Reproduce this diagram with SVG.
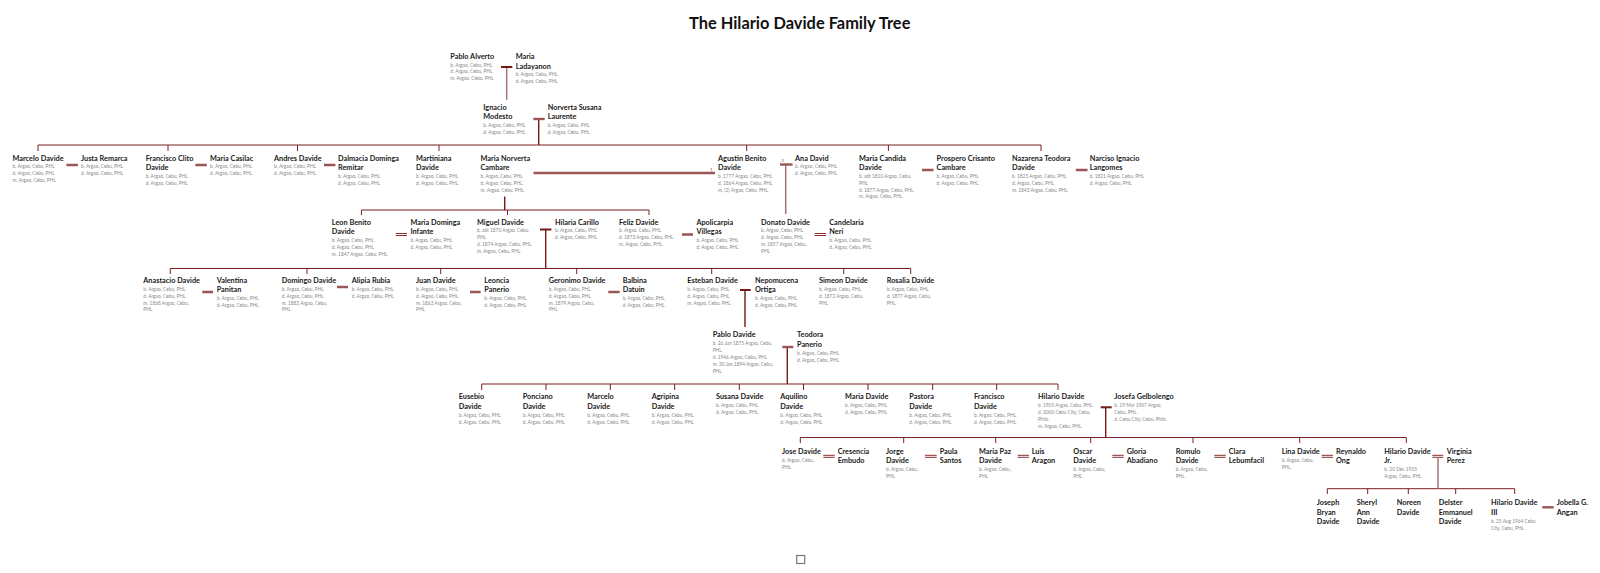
<svg xmlns="http://www.w3.org/2000/svg" width="1600" height="573" viewBox="0 0 1600 573">
<style>
text{font-family:Lato,"Liberation Sans",sans-serif}
.t{font-size:16.4px;font-weight:700;fill:#111}
.n{font-size:7.3px;font-weight:700;fill:#1a1a1a}
.d{font-size:4.8px;fill:#8a8a8a}
.s{font-size:4px;fill:#7a3030}
.l{fill:none;stroke:#7b1f1f;stroke-width:1}
.k{fill:none;stroke:#741818;stroke-width:1.4}
.r{fill:none;stroke:#a67474;stroke-width:1.5}
.b{fill:none;stroke:#9a5656;stroke-width:2.4}
.e{fill:none;stroke:#741818;stroke-width:2}
.w{fill:none;stroke:#8a2c2c;stroke-width:1}
</style>
<text class="t" x="689" y="29">The Hilario Davide Family Tree</text>
<g id="connectors">
<path class="l" d="M38 151V145H1041V151M168 145V151M297.5 145V151M439 145V151M746.7 145V151M888.4 145V151"/>
<path class="l" d="M361.4 215V210H649V215M507.5 210V215"/>
<path class="l" d="M170.3 274V268.5H910.7V274M307 268.5V274M440.7 268.5V274M576.7 268.5V274M711.7 268.5V274M843.7 268.5V274"/>
<path class="l" d="M481.7 390V384H1058V390M546 384V390M610.3 384V390M674.7 384V390M739.3 384V390M803.5 384V390M868 384V390M932.7 384V390M996.7 384V390"/>
<path class="l" d="M800.3 443V437.5H1406.3V443M903.7 437.5V443M995.7 437.5V443M1090.7 437.5V443M1193 437.5V443M1299.7 437.5V443"/>
<path class="l" d="M1327.3 494V488.7H1514.7V494M1367.7 488.7V494M1408.3 488.7V494M1455.7 488.7V494"/>
<path class="r" d="M506.7 67V99.7"/><path class="e" d="M501 67H512.3"/>
<path class="k" d="M538.7 119V145"/><path class="b" d="M533.3 119H544.7"/>
<path class="b" d="M66.4 165H77.9M195.4 165H206.8M324 165H335.4"/>
<path class="b" d="M533.5 173H715"/>
<path class="r" d="M785.7 164.5V214"/><path class="b" d="M780 164.5H792.6"/>
<path class="b" d="M922 170H933.5M1075.8 170H1087.5"/>
<path class="k" d="M504.7 196.5V210"/>
<path class="w" d="M395.7 233.5H407M395.7 235.5H407M814.6 233.5H826M814.6 235.5H826"/>
<path class="k" d="M545.7 229.5V268.5"/><path class="e" d="M540 229.5H551.4"/>
<path class="b" d="M682 234.5H693M202.3 292H213M337 287H348M470 292H480.7M608.3 292H619.7"/>
<path class="k" d="M745 290V327"/><path class="e" d="M740 290H750.7"/>
<path class="k" d="M787.3 347V384"/><path class="b" d="M782.3 347H793.3"/>
<path class="k" d="M1105.7 407.3V437.5"/><path class="e" d="M1100.7 407.3H1111.7"/>
<path class="w" d="M823.3 455.3H834.7M823.3 457.3H834.7M925 455.3H936.7M925 457.3H936.7M1017.7 455.3H1029M1017.7 457.3H1029M1112.3 455.3H1123.7M1112.3 457.3H1123.7M1214.3 455.3H1225.7M1214.3 457.3H1225.7M1321.7 455.3H1333M1321.7 457.3H1333M1432.3 455.3H1443.3M1432.3 457.3H1443.3"/>
<path class="r" d="M1438 457V488.7"/>
<path class="b" d="M1542.3 507.3H1553.7"/>
<text class="s" x="710" y="171">1</text>
<text class="s" x="781.5" y="162">2</text>
</g>
<g id="pablo-alverto"><text class="n" x="450.3" y="59">Pablo Alverto</text><text class="d" x="450.3" y="66.6">b. Argao, Cebu, PHL</text><text class="d" x="450.3" y="73.4">d. Argao, Cebu, PHL</text><text class="d" x="450.3" y="80.2">m. Argao, Cebu, PHL</text></g>
<g id="maria-ladayanon"><text class="n" x="515.7" y="59">Maria</text><text class="n" x="515.7" y="68.5">Ladayanon</text><text class="d" x="515.7" y="76.3">b. Argao, Cebu, PHL</text><text class="d" x="515.7" y="83">d. Argao, Cebu, PHL</text></g>
<g id="ignacio-modesto"><text class="n" x="483.3" y="109.7">Ignacio</text><text class="n" x="483.3" y="119.2">Modesto</text><text class="d" x="483.3" y="127">b. Argao, Cebu, PHL</text><text class="d" x="483.3" y="133.8">d. Argao, Cebu, PHL</text></g>
<g id="norverta-laurente"><text class="n" x="547.7" y="109.7">Norverta Susana</text><text class="n" x="547.7" y="119.2">Laurente</text><text class="d" x="547.7" y="127">b. Argao, Cebu, PHL</text><text class="d" x="547.7" y="133.8">d. Argao, Cebu, PHL</text></g>

<g id="marcelo-davide"><text class="n" x="12.5" y="160.5">Marcelo Davide</text><text class="d" x="12.5" y="168.3">b. Argao, Cebu, PHL</text><text class="d" x="12.5" y="175.2">d. Argao, Cebu, PHL</text><text class="d" x="12.5" y="182">m. Argao, Cebu, PHL</text></g>
<g id="justa-remarca"><text class="n" x="81" y="160.5">Justa Remarca</text><text class="d" x="81" y="168.3">b. Argao, Cebu, PHL</text><text class="d" x="81" y="175.2">d. Argao, Cebu, PHL</text></g>
<g id="francisco-clito"><text class="n" x="145.7" y="160.5">Francisco Clito</text><text class="n" x="145.7" y="170">Davide</text><text class="d" x="145.7" y="177.7">b. Argao, Cebu, PHL</text><text class="d" x="145.7" y="184.6">d. Argao, Cebu, PHL</text></g>
<g id="maria-casilac"><text class="n" x="210" y="160.5">Maria Casilac</text><text class="d" x="210" y="168.3">b. Argao, Cebu, PHL</text><text class="d" x="210" y="175.2">d. Argao, Cebu, PHL</text></g>
<g id="andres-davide"><text class="n" x="274" y="160.5">Andres Davide</text><text class="d" x="274" y="168.3">b. Argao, Cebu, PHL</text><text class="d" x="274" y="175.2">d. Argao, Cebu, PHL</text></g>
<g id="dalmacia-remitar"><text class="n" x="338" y="160.5">Dalmacia Dominga</text><text class="n" x="338" y="170">Remitar</text><text class="d" x="338" y="177.7">b. Argao, Cebu, PHL</text><text class="d" x="338" y="184.6">d. Argao, Cebu, PHL</text></g>
<g id="martiniana-davide"><text class="n" x="416" y="160.5">Martiniana</text><text class="n" x="416" y="170">Davide</text><text class="d" x="416" y="177.7">b. Argao, Cebu, PHL</text><text class="d" x="416" y="184.6">d. Argao, Cebu, PHL</text></g>
<g id="maria-norverta"><text class="n" x="480.5" y="160.5">Maria Norverta</text><text class="n" x="480.5" y="170">Cambare</text><text class="d" x="480.5" y="177.7">b. Argao, Cebu, PHL</text><text class="d" x="480.5" y="184.6">d. Argao, Cebu, PHL</text><text class="d" x="480.5" y="191.5">m. Argao, Cebu, PHL</text></g>
<g id="agustin-davide"><text class="n" x="718" y="160.5">Agustin Benito</text><text class="n" x="718" y="170">Davide</text><text class="d" x="718" y="177.7">b. 1777 Argao, Cebu, PHL</text><text class="d" x="718" y="184.6">d. 1864 Argao, Cebu, PHL</text><text class="d" x="718" y="191.5">m. (2) Argao, Cebu, PHL</text></g>
<g id="ana-david"><text class="n" x="795" y="160.5">Ana David</text><text class="d" x="795" y="168.3">b. Argao, Cebu, PHL</text><text class="d" x="795" y="175.2">d. Argao, Cebu, PHL</text></g>
<g id="maria-candida"><text class="n" x="859" y="160.5">Maria Candida</text><text class="n" x="859" y="170">Davide</text><text class="d" x="859" y="177.7">b. abt 1810 Argao, Cebu,</text><text class="d" x="859" y="184.6">PHL</text><text class="d" x="859" y="191.5">d. 1877 Argao, Cebu, PHL</text><text class="d" x="859" y="198.4">m. Argao, Cebu, PHL</text></g>
<g id="prospero-cambare"><text class="n" x="936.6" y="160.5">Prospero Crisanto</text><text class="n" x="936.6" y="170">Cambare</text><text class="d" x="936.6" y="177.7">b. Argao, Cebu, PHL</text><text class="d" x="936.6" y="184.6">d. Argao, Cebu, PHL</text></g>
<g id="nazarena-davide"><text class="n" x="1012" y="160.5">Nazarena Teodora</text><text class="n" x="1012" y="170">Davide</text><text class="d" x="1012" y="177.7">b. 1825 Argao, Cebu, PHL</text><text class="d" x="1012" y="184.6">d. Argao, Cebu, PHL</text><text class="d" x="1012" y="191.5">m. 1843 Argao, Cebu, PHL</text></g>
<g id="narciso-langomes"><text class="n" x="1089.7" y="160.5">Narciso Ignacio</text><text class="n" x="1089.7" y="170">Langomes</text><text class="d" x="1089.7" y="177.7">b. 1821 Argao, Cebu, PHL</text><text class="d" x="1089.7" y="184.6">d. Argao, Cebu, PHL</text></g>

<g id="leon-davide"><text class="n" x="331.8" y="224.8">Leon Benito</text><text class="n" x="331.8" y="234.3">Davide</text><text class="d" x="331.8" y="242">b. Argao, Cebu, PHL</text><text class="d" x="331.8" y="249">d. Argao, Cebu, PHL</text><text class="d" x="331.8" y="256">m. 1847 Argao, Cebu, PHL</text></g>
<g id="maria-infante"><text class="n" x="410.4" y="224.8">Maria Dominga</text><text class="n" x="410.4" y="234.3">Infante</text><text class="d" x="410.4" y="242">b. Argao, Cebu, PHL</text><text class="d" x="410.4" y="249">d. Argao, Cebu, PHL</text></g>
<g id="miguel-davide"><text class="n" x="477" y="224.8">Miguel Davide</text><text class="d" x="477" y="232.3">b. abt 1870 Argao, Cebu,</text><text class="d" x="477" y="239.2">PHL</text><text class="d" x="477" y="246.1">d. 1874 Argao, Cebu, PHL</text><text class="d" x="477" y="253">m. Argao, Cebu, PHL</text></g>
<g id="hilaria-carillo"><text class="n" x="555" y="224.8">Hilaria Carillo</text><text class="d" x="555" y="232.3">b. Argao, Cebu, PHL</text><text class="d" x="555" y="239.2">d. Argao, Cebu, PHL</text></g>
<g id="feliz-davide"><text class="n" x="619" y="224.8">Feliz Davide</text><text class="d" x="619" y="232.3">b. Argao, Cebu, PHL</text><text class="d" x="619" y="239.2">d. 1873 Argao, Cebu, PHL</text><text class="d" x="619" y="246.1">m. Argao, Cebu, PHL</text></g>
<g id="apolicarpia-villegas"><text class="n" x="696.4" y="224.8">Apolicarpia</text><text class="n" x="696.4" y="234.3">Villegas</text><text class="d" x="696.4" y="242">b. Argao, Cebu, PHL</text><text class="d" x="696.4" y="249">d. Argao, Cebu, PHL</text></g>
<g id="donato-davide"><text class="n" x="761" y="224.8">Donato Davide</text><text class="d" x="761" y="232.3">b. Argao, Cebu, PHL</text><text class="d" x="761" y="239.2">d. Argao, Cebu, PHL</text><text class="d" x="761" y="246.1">m. 1857 Argao, Cebu,</text><text class="d" x="761" y="253">PHL</text></g>
<g id="candelaria-neri"><text class="n" x="829.3" y="224.8">Candelaria</text><text class="n" x="829.3" y="234.3">Neri</text><text class="d" x="829.3" y="242">b. Argao, Cebu, PHL</text><text class="d" x="829.3" y="249">d. Argao, Cebu, PHL</text></g>

<g id="anastacio-davide"><text class="n" x="143.3" y="282.5">Anastacio Davide</text><text class="d" x="143.3" y="290.7">b. Argao, Cebu, PHL</text><text class="d" x="143.3" y="297.6">d. Argao, Cebu, PHL</text><text class="d" x="143.3" y="304.5">m. 1868 Argao, Cebu,</text><text class="d" x="143.3" y="311.4">PHL</text></g>
<g id="valentina-panitan"><text class="n" x="216.7" y="282.5">Valentina</text><text class="n" x="216.7" y="292">Panitan</text><text class="d" x="216.7" y="300">b. Argao, Cebu, PHL</text><text class="d" x="216.7" y="307">d. Argao, Cebu, PHL</text></g>
<g id="domingo-davide"><text class="n" x="281.7" y="282.5">Domingo Davide</text><text class="d" x="281.7" y="290.7">b. Argao, Cebu, PHL</text><text class="d" x="281.7" y="297.6">d. Argao, Cebu, PHL</text><text class="d" x="281.7" y="304.5">m. 1883 Argao, Cebu,</text><text class="d" x="281.7" y="311.4">PHL</text></g>
<g id="alipia-rubia"><text class="n" x="351.7" y="282.5">Alipia Rubia</text><text class="d" x="351.7" y="290.7">b. Argao, Cebu, PHL</text><text class="d" x="351.7" y="297.6">d. Argao, Cebu, PHL</text></g>
<g id="juan-davide"><text class="n" x="416" y="282.5">Juan Davide</text><text class="d" x="416" y="290.7">b. Argao, Cebu, PHL</text><text class="d" x="416" y="297.6">d. Argao, Cebu, PHL</text><text class="d" x="416" y="304.5">m. 1863 Argao, Cebu,</text><text class="d" x="416" y="311.4">PHL</text></g>
<g id="leoncia-panerio"><text class="n" x="484.3" y="282.5">Leoncia</text><text class="n" x="484.3" y="292">Panerio</text><text class="d" x="484.3" y="300">b. Argao, Cebu, PHL</text><text class="d" x="484.3" y="307">d. Argao, Cebu, PHL</text></g>
<g id="geronimo-davide"><text class="n" x="548.7" y="282.5">Geronimo Davide</text><text class="d" x="548.7" y="290.7">b. Argao, Cebu, PHL</text><text class="d" x="548.7" y="297.6">d. Argao, Cebu, PHL</text><text class="d" x="548.7" y="304.5">m. 1879 Argao, Cebu,</text><text class="d" x="548.7" y="311.4">PHL</text></g>
<g id="balbina-datuin"><text class="n" x="622.7" y="282.5">Balbina</text><text class="n" x="622.7" y="292">Datuin</text><text class="d" x="622.7" y="300">b. Argao, Cebu, PHL</text><text class="d" x="622.7" y="307">d. Argao, Cebu, PHL</text></g>
<g id="esteban-davide"><text class="n" x="687.3" y="282.5">Esteban Davide</text><text class="d" x="687.3" y="290.7">b. Argao, Cebu, PHL</text><text class="d" x="687.3" y="297.6">d. Argao, Cebu, PHL</text><text class="d" x="687.3" y="304.5">m. Argao, Cebu, PHL</text></g>
<g id="nepomucena-ortiga"><text class="n" x="755" y="282.5">Nepomucena</text><text class="n" x="755" y="292">Ortiga</text><text class="d" x="755" y="300">b. Argao, Cebu, PHL</text><text class="d" x="755" y="307">d. Argao, Cebu, PHL</text></g>
<g id="simeon-davide"><text class="n" x="819" y="282.5">Simeon Davide</text><text class="d" x="819" y="290.7">b. Argao, Cebu, PHL</text><text class="d" x="819" y="297.6">d. 1872 Argao, Cebu,</text><text class="d" x="819" y="304.5">PHL</text></g>
<g id="rosalia-davide"><text class="n" x="886.7" y="282.5">Rosalia Davide</text><text class="d" x="886.7" y="290.7">b. Argao, Cebu, PHL</text><text class="d" x="886.7" y="297.6">d. 1877 Argao, Cebu,</text><text class="d" x="886.7" y="304.5">PHL</text></g>

<g id="pablo-davide"><text class="n" x="712.7" y="337">Pablo Davide</text><text class="d" x="712.7" y="345">b. 26 Jun 1875 Argao, Cebu,</text><text class="d" x="712.7" y="352">PHL</text><text class="d" x="712.7" y="359">d. 1946 Argao, Cebu, PHL</text><text class="d" x="712.7" y="366">m. 30 Jan 1894 Argao, Cebu,</text><text class="d" x="712.7" y="373">PHL</text></g>
<g id="teodora-panerio"><text class="n" x="797" y="337">Teodora</text><text class="n" x="797" y="346.5">Panerio</text><text class="d" x="797" y="354.5">b. Argao, Cebu, PHL</text><text class="d" x="797" y="361.5">d. Argao, Cebu, PHL</text></g>

<g id="eusebio-davide"><text class="n" x="458.7" y="399">Eusebio</text><text class="n" x="458.7" y="408.5">Davide</text><text class="d" x="458.7" y="416.5">b. Argao, Cebu, PHL</text><text class="d" x="458.7" y="423.5">d. Argao, Cebu, PHL</text></g>
<g id="ponciano-davide"><text class="n" x="522.7" y="399">Ponciano</text><text class="n" x="522.7" y="408.5">Davide</text><text class="d" x="522.7" y="416.5">b. Argao, Cebu, PHL</text><text class="d" x="522.7" y="423.5">d. Argao, Cebu, PHL</text></g>
<g id="marcelo-davide-2"><text class="n" x="587.3" y="399">Marcelo</text><text class="n" x="587.3" y="408.5">Davide</text><text class="d" x="587.3" y="416.5">b. Argao, Cebu, PHL</text><text class="d" x="587.3" y="423.5">d. Argao, Cebu, PHL</text></g>
<g id="agripina-davide"><text class="n" x="651.7" y="399">Agripina</text><text class="n" x="651.7" y="408.5">Davide</text><text class="d" x="651.7" y="416.5">b. Argao, Cebu, PHL</text><text class="d" x="651.7" y="423.5">d. Argao, Cebu, PHL</text></g>
<g id="susana-davide"><text class="n" x="716" y="399">Susana Davide</text><text class="d" x="716" y="407">b. Argao, Cebu, PHL</text><text class="d" x="716" y="414">d. Argao, Cebu, PHL</text></g>
<g id="aquilino-davide"><text class="n" x="780.3" y="399">Aquilino</text><text class="n" x="780.3" y="408.5">Davide</text><text class="d" x="780.3" y="416.5">b. Argao, Cebu, PHL</text><text class="d" x="780.3" y="423.5">d. Argao, Cebu, PHL</text></g>
<g id="maria-davide"><text class="n" x="845" y="399">Maria Davide</text><text class="d" x="845" y="407">b. Argao, Cebu, PHL</text><text class="d" x="845" y="414">d. Argao, Cebu, PHL</text></g>
<g id="pastora-davide"><text class="n" x="909.3" y="399">Pastora</text><text class="n" x="909.3" y="408.5">Davide</text><text class="d" x="909.3" y="416.5">b. Argao, Cebu, PHL</text><text class="d" x="909.3" y="423.5">d. Argao, Cebu, PHL</text></g>
<g id="francisco-davide"><text class="n" x="974" y="399">Francisco</text><text class="n" x="974" y="408.5">Davide</text><text class="d" x="974" y="416.5">b. Argao, Cebu, PHL</text><text class="d" x="974" y="423.5">d. Argao, Cebu, PHL</text></g>
<g id="hilario-davide"><text class="n" x="1038" y="399">Hilario Davide</text><text class="d" x="1038" y="407">b. 1905 Argao, Cebu, PHL</text><text class="d" x="1038" y="414">d. 2000 Cebu City, Cebu,</text><text class="d" x="1038" y="421">Phils.</text><text class="d" x="1038" y="428">m. Argao, Cebu, PHL</text></g>
<g id="josefa-gelbolengo"><text class="n" x="1114.3" y="399">Josefa Gelbolengo</text><text class="d" x="1114.3" y="407">b. 19 Mar 1907 Argao,</text><text class="d" x="1114.3" y="414">Cebu, PHL</text><text class="d" x="1114.3" y="421">d. Cebu City, Cebu, Phils.</text></g>

<g id="jose-davide"><text class="n" x="782" y="453.5">Jose Davide</text><text class="d" x="782" y="461.5">b. Argao, Cebu,</text><text class="d" x="782" y="468.5">PHL</text></g>
<g id="cresencia-embudo"><text class="n" x="837.7" y="453.5">Cresencia</text><text class="n" x="837.7" y="463">Embudo</text></g>
<g id="jorge-davide"><text class="n" x="886" y="453.5">Jorge</text><text class="n" x="886" y="463">Davide</text><text class="d" x="886" y="471">b. Argao, Cebu,</text><text class="d" x="886" y="478">PHL</text></g>
<g id="paula-santos"><text class="n" x="939.7" y="453.5">Paula</text><text class="n" x="939.7" y="463">Santos</text></g>
<g id="maria-paz-davide"><text class="n" x="979" y="453.5">Maria Paz</text><text class="n" x="979" y="463">Davide</text><text class="d" x="979" y="471">b. Argao, Cebu,</text><text class="d" x="979" y="478">PHL</text></g>
<g id="luis-aragon"><text class="n" x="1031.7" y="453.5">Luis</text><text class="n" x="1031.7" y="463">Aragon</text></g>
<g id="oscar-davide"><text class="n" x="1073.3" y="453.5">Oscar</text><text class="n" x="1073.3" y="463">Davide</text><text class="d" x="1073.3" y="471">b. Argao, Cebu,</text><text class="d" x="1073.3" y="478">PHL</text></g>
<g id="gloria-abadiano"><text class="n" x="1126.7" y="453.5">Gloria</text><text class="n" x="1126.7" y="463">Abadiano</text></g>
<g id="romulo-davide"><text class="n" x="1175.7" y="453.5">Romulo</text><text class="n" x="1175.7" y="463">Davide</text><text class="d" x="1175.7" y="471">b. Argao, Cebu,</text><text class="d" x="1175.7" y="478">PHL</text></g>
<g id="clara-lebumfacil"><text class="n" x="1228.7" y="453.5">Clara</text><text class="n" x="1228.7" y="463">Lebumfacil</text></g>
<g id="lina-davide"><text class="n" x="1281.7" y="453.5">Lina Davide</text><text class="d" x="1281.7" y="461.5">b. Argao, Cebu,</text><text class="d" x="1281.7" y="468.5">PHL</text></g>
<g id="reynaldo-ong"><text class="n" x="1336" y="453.5">Reynaldo</text><text class="n" x="1336" y="463">Ong</text></g>
<g id="hilario-jr"><text class="n" x="1384.3" y="453.5">Hilario Davide</text><text class="n" x="1384.3" y="463">Jr.</text><text class="d" x="1384.3" y="471">b. 20 Dec 1935</text><text class="d" x="1384.3" y="478">Argao, Cebu, PHL</text></g>
<g id="virginia-perez"><text class="n" x="1446.7" y="453.5">Virginia</text><text class="n" x="1446.7" y="463">Perez</text></g>

<g id="joseph-davide"><text class="n" x="1316.7" y="505">Joseph</text><text class="n" x="1316.7" y="514.5">Bryan</text><text class="n" x="1316.7" y="524">Davide</text></g>
<g id="sheryl-davide"><text class="n" x="1356.7" y="505">Sheryl</text><text class="n" x="1356.7" y="514.5">Ann</text><text class="n" x="1356.7" y="524">Davide</text></g>
<g id="noreen-davide"><text class="n" x="1396.7" y="505">Noreen</text><text class="n" x="1396.7" y="514.5">Davide</text></g>
<g id="delster-davide"><text class="n" x="1438.7" y="505">Delster</text><text class="n" x="1438.7" y="514.5">Emmanuel</text><text class="n" x="1438.7" y="524">Davide</text></g>
<g id="hilario-iii"><text class="n" x="1491" y="505">Hilario Davide</text><text class="n" x="1491" y="514.5">III</text><text class="d" x="1491" y="522.5">b. 25 Aug 1964 Cebu</text><text class="d" x="1491" y="529.5">City, Cebu, PHL</text></g>
<g id="jobella-angan"><text class="n" x="1556.7" y="505">Jobella G.</text><text class="n" x="1556.7" y="514.5">Angan</text></g>
<rect x="796.7" y="555.5" width="8" height="8" fill="none" stroke="#777" stroke-width="1.2"/>
</svg>
